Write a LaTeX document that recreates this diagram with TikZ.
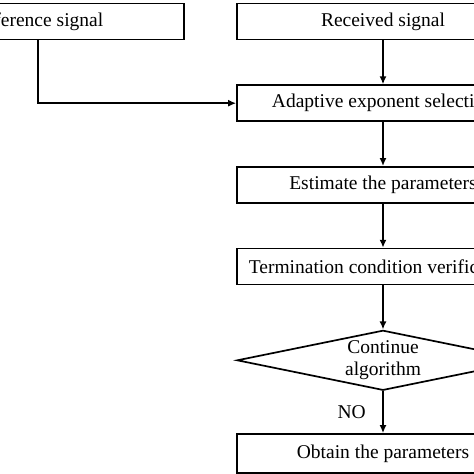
\documentclass[tikz,border=0pt]{standalone}
\usepackage{fontspec}
\setmainfont{Liberation Serif}
\usetikzlibrary{arrows.meta,positioning,shapes.geometric}

\begin{document}
\begin{tikzpicture}[
    x=1pt, y=1pt,
    box/.style={
        rectangle, draw, line width=1.7pt,
        minimum width=292pt, minimum height=36pt,
        inner sep=2pt,
    },
    decision/.style={
        diamond, draw, line width=1.7pt, aspect=4.8,
        minimum width=292pt, minimum height=60pt,
        inner sep=0pt, align=center,
        font=\fontsize{19.5}{22}\selectfont,
    },
    arr/.style={-{Latex[length=8pt,width=7pt]}, line width=1.7pt},
    font=\fontsize{19.5}{24}\selectfont,
]
\useasboundingbox (0,0) rectangle (474,-474);
\clip (0,0) rectangle (474,-474);

% Inputs
\node[box] (recv) at (383,-21.5) {Received signal};
\node[box] (ref) at (38,-21.5) {Reference signal};

% Main chain
\node[box, below=44pt of recv] (adapt) {Adaptive exponent selection};
\node[box, below=44pt of adapt] (est) {Estimate the parameters};
\node[box, below=44pt of est] (term) {Termination condition verification};
\node[decision, below=44pt of term] (cont) {Continue\\algorithm};
\node[box, below=42pt of cont, minimum height=39pt] (obtain) {Obtain the parameters};

\draw[arr] (recv) -- (adapt);
\draw[arr] (ref.south) |- (adapt.west);
\draw[arr] (adapt) -- (est);
\draw[arr] (est) -- (term);
\draw[arr] (term) -- (cont);
\draw[arr] (cont) -- node[left=13pt] {NO} (obtain);

\end{tikzpicture}
\end{document}
